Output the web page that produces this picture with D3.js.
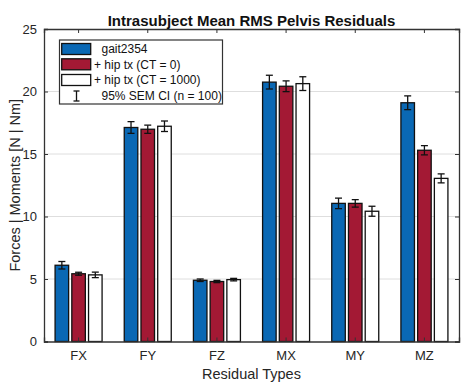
<!DOCTYPE html>
<html><head><meta charset="utf-8">
<script src="https://cdn.jsdelivr.net/npm/d3@7"></script>
<style>body{margin:0;background:#fff;} text{font-family:Arial,"Liberation Sans",Helvetica,sans-serif;}</style>
</head><body><svg id="c" width="474" height="384"></svg>
<script>
const categories = ["FX","FY","FZ","MX","MY","MZ"];
const seriesNames = ["gait2354","+ hip tx (CT = 0)","+ hip tx (CT = 1000)"];
const gait2354 = [6.1, 17.12, 4.9, 20.75, 11.05, 19.1];
const hipCT0   = [5.42, 16.98, 4.8, 20.42, 11.05, 15.3];
const hipCT1000= [5.33, 17.22, 4.95, 20.63, 10.42, 13.05];
const errGait  = [0.3, 0.47, 0.1, 0.55, 0.42, 0.55];
const errCT0   = [0.12, 0.33, 0.09, 0.43, 0.3, 0.37];
const errCT1000= [0.22, 0.42, 0.1, 0.55, 0.4, 0.36];
const yTicks = [0,5,10,15,20,25];
const colors = ["#0a68b4","#a31934","#ffffff"];

const values = [gait2354, hipCT0, hipCT1000];
const errs = [errGait, errCT0, errCT1000];

const svg = d3.select("#c");
const L=44, R=459, T=29, B=341.5;
const x = d3.scaleBand().domain(categories).range([L,R]).padding(0);
const xs = d3.scaleBand().domain([0,1,2]).range([-23.5,23.5]).paddingInner(0.19);
const y = d3.scaleLinear().domain([0,25]).range([B,T]);

// grid
svg.append("g").selectAll("line").data(yTicks.filter(d=>d>0&&d<25)).join("line")
  .attr("x1",L).attr("x2",R).attr("y1",d=>y(d)).attr("y2",d=>y(d))
  .attr("stroke","#dedede").attr("stroke-width",1);

// bars
categories.forEach((c,ci)=>{
  values.forEach((vals,si)=>{
    const cx = x(c)+x.bandwidth()/2 + xs(si);
    svg.append("rect").attr("x",cx).attr("y",y(vals[ci])).attr("width",xs.bandwidth())
      .attr("height",y(0)-y(vals[ci])).attr("fill",colors[si]).attr("stroke","#111").attr("stroke-width",1.3);
  });
});
// error bars
categories.forEach((c,ci)=>{
  values.forEach((vals,si)=>{
    const mx = x(c)+x.bandwidth()/2 + xs(si) + xs.bandwidth()/2;
    const lo=y(vals[ci]-errs[si][ci]), hi=y(vals[ci]+errs[si][ci]);
    const g=svg.append("g").attr("stroke","#111").attr("stroke-width",1.3);
    g.append("line").attr("x1",mx).attr("x2",mx).attr("y1",lo).attr("y2",hi);
    g.append("line").attr("x1",mx-3.5).attr("x2",mx+3.5).attr("y1",lo).attr("y2",lo);
    g.append("line").attr("x1",mx-3.5).attr("x2",mx+3.5).attr("y1",hi).attr("y2",hi);
  });
});

// axes
const ac="#333";
const yl = svg.append("g").attr("transform",`translate(${L},0)`).call(d3.axisLeft(y).tickValues(yTicks).tickSize(-4).tickPadding(7));
const yr = svg.append("g").attr("transform",`translate(${R},0)`).call(d3.axisRight(y).tickValues(yTicks).tickSize(-4).tickFormat(""));
const xb = svg.append("g").attr("transform",`translate(0,${B})`).call(d3.axisBottom(x).tickSize(-4).tickPadding(9));
const xt = svg.append("g").attr("transform",`translate(0,${T})`).call(d3.axisTop(x).tickSize(-4).tickFormat(""));
[yl,yr,xb,xt].forEach(g=>{
  g.select(".domain").attr("stroke",ac).attr("stroke-width",1.3);
  g.selectAll(".tick line").attr("stroke",ac).attr("stroke-width",1);
  g.selectAll("text").attr("font-size",13).attr("fill","#262626").attr("font-family","Arial, 'Liberation Sans', sans-serif");
});

// title and labels
svg.append("text").attr("x",(L+R)/2).attr("y",25.5).attr("text-anchor","middle")
  .attr("font-size",15).attr("font-weight","bold").attr("fill","#111").text("Intrasubject Mean RMS Pelvis Residuals");
svg.append("text").attr("x",(L+R)/2).attr("y",379).attr("text-anchor","middle")
  .attr("font-size",14.5).attr("fill","#262626").text("Residual Types");
svg.append("text").attr("transform",`translate(20,${(T+B)/2}) rotate(-90)`).attr("text-anchor","middle")
  .attr("font-size",14.5).attr("fill","#262626").text("Forces | Moments [N | Nm]");

// legend
const lg = svg.append("g");
lg.append("rect").attr("x",59.5).attr("y",40).attr("width",163).attr("height",64)
  .attr("fill","#fff").attr("stroke","#333").attr("stroke-width",1.2);
const rowsY=[49,64.3,80,96];
const textX=[101.5,94,94];
seriesNames.forEach((n,i)=>{
  lg.append("rect").attr("x",61.7).attr("y",rowsY[i]-5.5).attr("width",29).attr("height",11)
    .attr("fill",colors[i]).attr("stroke","#111").attr("stroke-width",1.3);
  lg.append("text").attr("x",textX[i]).attr("y",rowsY[i]+4.3).attr("font-size",12).attr("fill","#111").text(n);
});
const ex=76.5, ey=rowsY[3];
const eg=lg.append("g").attr("stroke","#111").attr("stroke-width",1.3);
eg.append("line").attr("x1",ex).attr("x2",ex).attr("y1",ey-5).attr("y2",ey+5);
eg.append("line").attr("x1",ex-3).attr("x2",ex+3).attr("y1",ey-5).attr("y2",ey-5);
eg.append("line").attr("x1",ex-3).attr("x2",ex+3).attr("y1",ey+5).attr("y2",ey+5);
lg.append("text").attr("x",101.5).attr("y",ey+4.3).attr("font-size",12).attr("fill","#111").text("95% SEM CI (n = 100)");
</script></body></html>
